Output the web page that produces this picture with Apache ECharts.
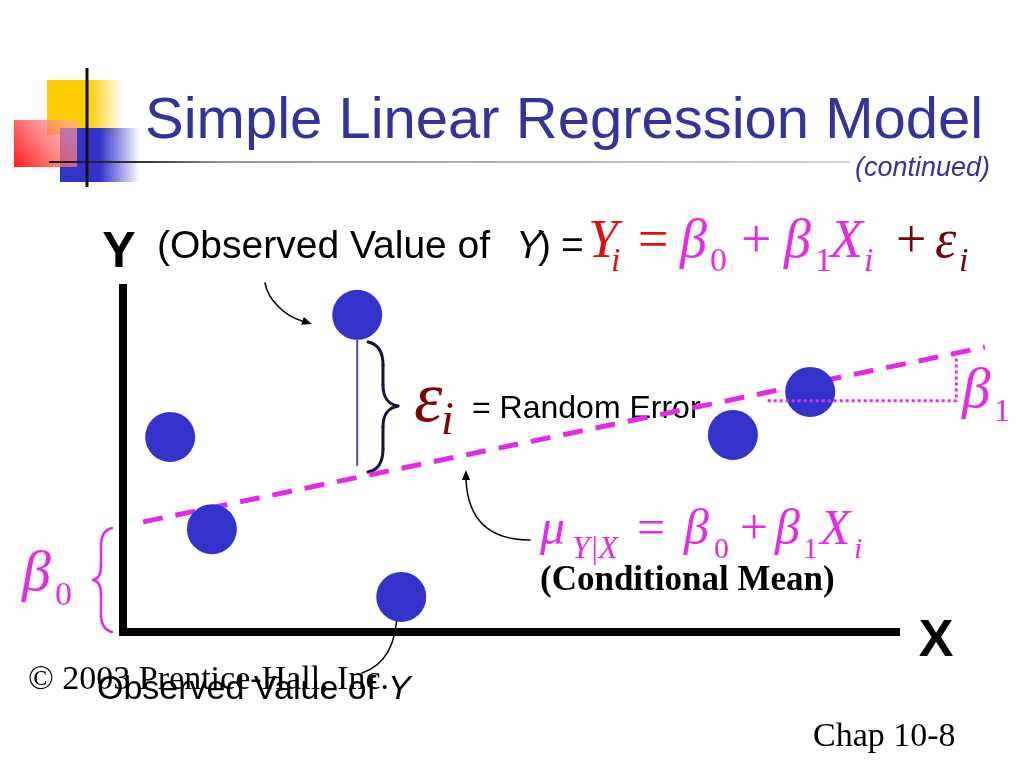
<!DOCTYPE html>
<html>
<head>
<meta charset="utf-8">
<script src="https://cdn.jsdelivr.net/npm/echarts@6/dist/echarts.min.js"></script>
<style>
html,body{margin:0;padding:0;background:#fff;}
#chart{width:1024px;height:768px;}
</style>
</head>
<body>
<div id="chart"></div>
<script>
// ---- data (value units of the chart's axes) ----
const observedPoints = [[30.3,92.2],[6.1,56.7],[11.5,29.9],[36.0,10.2],[78.9,57.3],[88.9,69.8]];
const regressionLine = [[2.6,32.0],[111.5,82.8]];
const slopeGuide = [[83.4,67.2],[107.8,67.2],[107.8,80.2]];
const errorSegment = [[30.3,84.9],[30.3,48.3]];
const axisRange = [0, 100];      // drawn X / Y axes
const plotRangeX = [0, 115];     // same scale, wider so the line may run past the X axis end

// ---- texts ----
const titleText = 'Simple Linear Regression Model';
const subtitleText = '(continued)';
const copyrightText = '\u00A9 2003 Prentice-Hall, Inc.';
const chapText = 'Chap 10-8';

const MAG = '#e42ae4';
const RED = '#dd1111';
const DRED = '#6e0606';
const SERIF = '"Liberation Serif"';
const SANS = '"Liberation Sans"';

function T(text, x, y, font, fill, align) {
  return {type:'text', x:x, y:y, silent:true,
    style:{text:text, font:font, fill:fill, align:align||'left', verticalAlign:'middle'}};
}
function arrowHead(tx, ty, dx, dy) {
  const bx = tx - 10*dx, by = ty - 10*dy, nx = -dy, ny = dx;
  return {type:'polygon', silent:true,
    shape:{points:[[tx,ty],[bx+4*nx,by+4*ny],[bx-4*nx,by-4*ny]]},
    style:{fill:'#000'}};
}
// parse a simple "M x,y C ... L ..." path into line / bezierCurve elements
function P(d, stroke, w) {
  const nums = d.match(/[MCL]|-?[\d.]+/g);
  const els = [];
  let cx = 0, cy = 0, i = 0;
  while (i < nums.length) {
    const c = nums[i++];
    if (c === 'M') { cx = +nums[i++]; cy = +nums[i++]; }
    else if (c === 'L') {
      const x = +nums[i++], y = +nums[i++];
      els.push({type:'line', silent:true, shape:{x1:cx,y1:cy,x2:x,y2:y}, style:{stroke:stroke, lineWidth:w, lineCap:'round'}});
      cx = x; cy = y;
    } else if (c === 'C') {
      const a = +nums[i++], b = +nums[i++], e = +nums[i++], f = +nums[i++], x = +nums[i++], y = +nums[i++];
      els.push({type:'bezierCurve', silent:true, shape:{x1:cx,y1:cy,cpx1:a,cpy1:b,cpx2:e,cpy2:f,x2:x,y2:y},
        style:{stroke:stroke, lineWidth:w, fill:null, lineCap:'round'}});
      cx = x; cy = y;
    }
  }
  return els;
}

const graphics = [
  // logo
  {type:'rect', shape:{x:47,y:80,width:76,height:55}, style:{fill:{type:'linear',x:0,y:0,x2:1,y2:0,
    colorStops:[{offset:0,color:'#ffcc00'},{offset:0.53,color:'#ffcc00'},{offset:1,color:'rgba(255,204,0,0)'}]}}},
  {type:'rect', shape:{x:60,y:128,width:80,height:54}, style:{fill:{type:'linear',x:0,y:0,x2:1,y2:0,
    colorStops:[{offset:0,color:'#3333cc'},{offset:0.5,color:'#3333cc'},{offset:1,color:'rgba(51,51,204,0)'}]}}},
  {type:'rect', shape:{x:14,y:120,width:63,height:47}, style:{fill:{type:'linear',x:0,y:1,x2:1,y2:0,
    colorStops:[{offset:0,color:'#ff1a1a'},{offset:1,color:'rgba(255,175,175,0.6)'}]}}},
  {type:'line', shape:{x1:49,y1:162,x2:850,y2:162}, style:{lineWidth:2, stroke:{type:'linear',x:49,y:0,x2:850,y2:0,global:true,
    colorStops:[{offset:0,color:'#1a1a1a'},{offset:0.12,color:'#333'},{offset:0.22,color:'#999'},{offset:1,color:'#cfcfcf'}]}}},
  {type:'line', shape:{x1:87,y1:68,x2:87,y2:187}, style:{stroke:'#111', lineWidth:3}},

  // title
  T(titleText, 145, 122, '58px ' + SANS, '#333399'),
  T(subtitleText, 990, 168, 'italic 27px ' + SANS, '#333399', 'right'),

  // axis names
  T('Y', 119, 253, 'bold 50px ' + SANS, '#000', 'center'),
  T('X', 936, 642, 'bold 52px ' + SANS, '#000', 'center'),

  // observed value formula
  T('(Observed Value of', 157, 247, '39px ' + SANS, '#000'),
  T('Y', 516, 247, 'italic 39px ' + SANS, '#000'),
  T(')', 538, 247, '39px ' + SANS, '#000'),
  T('=', 561, 247, '39px ' + SANS, '#000'),
  T('Y', 588, 243, 'italic 54px ' + SERIF, RED),
  T('i', 611, 262, 'italic 34px ' + SERIF, RED),
  T('=', 638, 243, '54px ' + SERIF, RED),
  T('\u03B2', 680, 243, 'italic 54px ' + SERIF, MAG),
  T('0', 710, 262, '34px ' + SERIF, MAG),
  T('+', 741, 243, '54px ' + SERIF, MAG),
  T('\u03B2', 784, 243, 'italic 54px ' + SERIF, MAG),
  T('1', 815, 262, '34px ' + SERIF, MAG),
  T('X', 830, 243, 'italic 54px ' + SERIF, MAG),
  T('i', 864, 262, 'italic 34px ' + SERIF, MAG),
  T('+', 896, 243, '54px ' + SERIF, DRED),
  T('\u03B5', 935, 243, 'italic 54px ' + SERIF, DRED),
  T('i', 959, 262, 'italic 34px ' + SERIF, DRED),

  // random error
  T('\u03B5', 414, 402, 'italic 72px ' + SERIF, '#7a0404'),
  T('i', 441, 422, 'italic 46px ' + SERIF, '#7a0404'),
  T('= Random Error', 472, 409, '32px ' + SANS, '#000'),
  ...P('M368,342 C378,344 383,352 383,365 L383,385 C383,398 388,404 398,406 C388,408 383,414 383,427 L383,449 C383,462 378,470 368,472', '#15153a', 3),

  // beta1
  T('\u03B2', 962, 392, 'italic 57px ' + SERIF, MAG),
  T('1', 994, 413, '32px ' + SERIF, MAG),

  // beta0
  T('\u03B2', 22, 575, 'italic 58px ' + SERIF, MAG),
  T('0', 55, 596, '34px ' + SERIF, MAG),
  ...P('M112,528 C104,530 101,536 101,546 L101,566 C101,574 98,579 93,580 C98,581 101,586 101,594 L101,614 C101,624 104,630 112,632', MAG, 2.5),

  // conditional mean
  T('\u03BC', 540, 531, 'italic 50px ' + SERIF, MAG),
  T('Y|X', 572, 550, 'italic 32px ' + SERIF, MAG),
  T('=', 637, 531, '50px ' + SERIF, MAG),
  T('\u03B2', 684, 531, 'italic 50px ' + SERIF, MAG),
  T('0', 714, 550, '30px ' + SERIF, MAG),
  T('+', 740, 531, '50px ' + SERIF, MAG),
  T('\u03B2', 775, 531, 'italic 50px ' + SERIF, MAG),
  T('1', 803, 550, '30px ' + SERIF, MAG),
  T('X', 820, 531, 'italic 50px ' + SERIF, MAG),
  T('i', 854, 550, 'italic 30px ' + SERIF, MAG),
  T('(Conditional Mean)', 540, 581, 'bold 35px ' + SERIF, '#000'),

  // arrows
  ...P('M265,283 C268,300 285,316 302,321', '#000', 1.5),
  arrowHead(312, 324, 0.95, 0.31),
  ...P('M530,540 C490,540 468,520 466,480', '#000', 1.5),
  arrowHead(466, 470, 0, -1),
  ...P('M362,673 C385,665 397,645 397,610', '#000', 1.5),
  arrowHead(397, 600, 0, -1),

  // footer
  T(copyrightText, 28, 680, '34px ' + SERIF, '#000'),
  T('Observed Value of ', 97, 690, '34px ' + SANS, '#000'),
  T('Y', 388, 690, 'italic 34px ' + SANS, '#000'),
  T(chapText, 813, 737, '34px ' + SERIF, '#000')
];

const hidden = {axisLine:{show:false}, axisTick:{show:false}, axisLabel:{show:false}, splitLine:{show:false}};
const shown = {
  axisLine:{show:true, onZero:false, lineStyle:{color:'#000', width:8, cap:'square'}},
  axisTick:{show:false}, axisLabel:{show:false}, splitLine:{show:false}
};
const unitPx = 7.73;

const chart = echarts.init(document.getElementById('chart'), null, {renderer:'canvas'});
chart.setOption({
  animation:false,
  backgroundColor:'#fff',
  grid:[
    {left:123, top:288, width:unitPx*(axisRange[1]-axisRange[0]), height:344},
    {left:123, top:288, width:unitPx*(plotRangeX[1]-plotRangeX[0]), height:344}
  ],
  xAxis:[
    Object.assign({type:'value', gridIndex:0, min:axisRange[0], max:axisRange[1]}, shown),
    Object.assign({type:'value', gridIndex:1, min:plotRangeX[0], max:plotRangeX[1]}, hidden)
  ],
  yAxis:[
    Object.assign({type:'value', gridIndex:0, min:axisRange[0], max:axisRange[1]}, shown),
    Object.assign({type:'value', gridIndex:1, min:axisRange[0], max:axisRange[1]}, hidden)
  ],
  graphic:{elements:graphics},
  series:[
    {type:'line', xAxisIndex:1, yAxisIndex:1, data:regressionLine, symbol:'none', z:1, silent:true,
      lineStyle:{color:MAG, width:5, type:[20,13]}},
    {type:'line', xAxisIndex:1, yAxisIndex:1, data:errorSegment, symbol:'none', z:2, silent:true,
      lineStyle:{color:'#4d4d99', width:2}},
    {type:'scatter', xAxisIndex:1, yAxisIndex:1, data:observedPoints, symbolSize:50, z:3, silent:true,
      itemStyle:{color:'#3333cc', opacity:1}},
    {type:'line', xAxisIndex:1, yAxisIndex:1, data:slopeGuide, symbol:'none', z:4, silent:true,
      lineStyle:{color:MAG, width:3, type:[3,3]}}
  ]
});
</script>
</body>
</html>
